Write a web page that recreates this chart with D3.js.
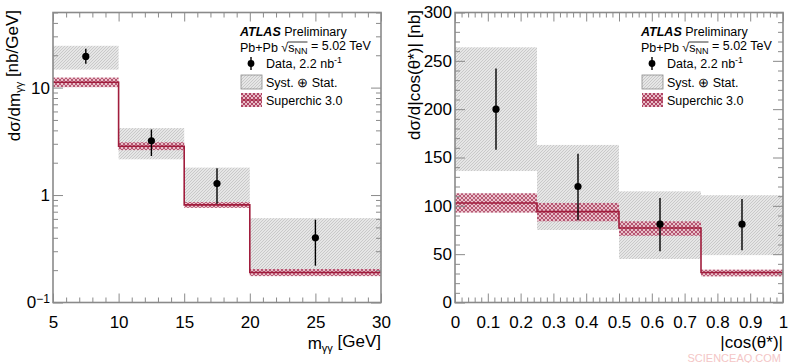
<!DOCTYPE html>
<html><head><meta charset="utf-8">
<script src="https://cdn.jsdelivr.net/npm/d3@7"></script>
<style>
body{margin:0;background:#fff;}
svg{display:block;font-family:"Liberation Sans",Arial,Helvetica,sans-serif;}
</style></head>
<body>
<svg id="c" width="800" height="363"></svg>
<script>
// ---------- data: left panel (m_yy) ----------
const mEdges = [5, 10, 15, 20, 30];
const mCenters = [7.5, 12.5, 17.5, 25];
const mData = [19.5, 3.2, 1.28, 0.40];
const mErrLo = [16.7, 2.31, 0.83, 0.22];
const mErrHi = [23.0, 4.08, 1.78, 0.59];
const mSystLo = [14.7, 2.15, 0.85, 0.19];
const mSystHi = [24.5, 4.2, 1.8, 0.61];
const mSC = [11.2, 2.85, 0.81, 0.19];
const mSCLo = [10.1, 2.62, 0.76, 0.176];
const mSCHi = [12.4, 3.1, 0.86, 0.205];
const mXTicks = [5, 10, 15, 20, 25, 30];
const mYTicks = [0.1, 1, 10];

// ---------- data: right panel (|cos theta*|) ----------
const cEdges = [0, 0.25, 0.5, 0.75, 1];
const cCenters = [0.125, 0.375, 0.625, 0.875];
const cData = [200, 120, 81, 81];
const cErrLo = [158, 85, 53, 54];
const cErrHi = [242, 154, 108, 107];
const cSystLo = [136, 75, 45, 49];
const cSystHi = [264, 163, 115, 111];
const cSC = [103, 94, 77, 31];
const cSCLo = [93, 84, 69, 27];
const cSCHi = [113, 103, 84, 34];
const cXTicks = [0, 0.1, 0.2, 0.3, 0.4, 0.5, 0.6, 0.7, 0.8, 0.9, 1];
const cYTicks = [0, 50, 100, 150, 200, 250, 300];

const svg = d3.select("#c");
const defs = svg.append("defs");
// syst hatch
const p1 = defs.append("pattern").attr("id","syst").attr("patternUnits","userSpaceOnUse")
  .attr("width",3).attr("height",3);
p1.append("rect").attr("width",3).attr("height",3).attr("fill","#e6e6e6");
p1.append("path").attr("d","M0,3 L3,0 M-1,1 L1,-1 M2,4 L4,2").attr("stroke","#c2c2c2").attr("stroke-width",0.8);
// superchic crosshatch
const p2 = defs.append("pattern").attr("id","sc").attr("patternUnits","userSpaceOnUse")
  .attr("width",4).attr("height",4);
p2.append("rect").attr("width",4).attr("height",4).attr("fill","#e9bcc6");
p2.append("path").attr("d","M0,4 L4,0 M-1,1 L1,-1 M3,5 L5,3 M0,0 L4,4 M-1,3 L1,5 M3,-1 L5,1")
  .attr("stroke","#a8385a").attr("stroke-width",0.9);

const yTop = 12.5, yBot = 302.5;
const frameCol = "#8a8a8a";
const lineCol = "#a11d3d";

function drawPanel(o){
  const g = svg.append("g");
  const x = o.x, y = o.y;
  const [x0,x1] = x.range();
  // syst boxes
  g.selectAll(".syst").data(o.centers).join("rect")
    .attr("x",(d,i)=>x(o.edges[i])).attr("width",(d,i)=>x(o.edges[i+1])-x(o.edges[i]))
    .attr("y",(d,i)=>y(o.systHi[i])).attr("height",(d,i)=>y(o.systLo[i])-y(o.systHi[i]))
    .attr("fill","url(#syst)");
  // superchic band
  g.selectAll(".band").data(o.centers).join("rect")
    .attr("x",(d,i)=>x(o.edges[i])).attr("width",(d,i)=>x(o.edges[i+1])-x(o.edges[i]))
    .attr("y",(d,i)=>y(o.scHi[i])).attr("height",(d,i)=>y(o.scLo[i])-y(o.scHi[i]))
    .attr("fill","url(#sc)").attr("opacity",0.9);
  // superchic step line
  const pts = [];
  o.sc.forEach((v,i)=>{pts.push([o.edges[i],v]);pts.push([o.edges[i+1],v]);});
  g.append("path").attr("d",d3.line().x(d=>x(d[0])).y(d=>y(d[1]))(pts))
    .attr("fill","none").attr("stroke",lineCol).attr("stroke-width",1.6);
  // data error bars & points
  g.selectAll(".err").data(o.centers).join("line")
    .attr("x1",d=>x(d)).attr("x2",d=>x(d))
    .attr("y1",(d,i)=>y(o.errHi[i])).attr("y2",(d,i)=>y(o.errLo[i]))
    .attr("stroke","#000").attr("stroke-width",1.4);
  g.selectAll(".pt").data(o.centers).join("circle")
    .attr("cx",d=>x(d)).attr("cy",(d,i)=>y(o.data[i])).attr("r",3.6).attr("fill","#000");
  // frame
  g.append("rect").attr("x",x0).attr("y",yTop).attr("width",x1-x0).attr("height",yBot-yTop)
    .attr("fill","none").attr("stroke",frameCol).attr("stroke-width",1.6);
  function styleAx(sel){sel.select(".domain").remove();sel.selectAll("line").attr("stroke",frameCol).attr("stroke-width",1);
    sel.selectAll("text").attr("fill","#000").style("font-size","17px").style("font-family","'Liberation Sans',Arial,sans-serif");}
  // x axes
  const xb = g.append("g").attr("transform",`translate(0,${yBot})`)
    .call(d3.axisBottom(x).tickValues(o.xTicks).tickSize(-9).tickPadding(13).tickFormat(o.xFmt));
  styleAx(xb);
  xb.selectAll("text").attr("dy","0.71em");
  const xbm = g.append("g").attr("transform",`translate(0,${yBot})`)
    .call(d3.axisBottom(x).tickValues(o.xMinor).tickSize(-5).tickFormat(""));
  styleAx(xbm);
  const xt = g.append("g").attr("transform",`translate(0,${yTop})`)
    .call(d3.axisTop(x).tickValues(o.xTicks).tickSize(-9).tickFormat(""));
  styleAx(xt);
  const xtm = g.append("g").attr("transform",`translate(0,${yTop})`)
    .call(d3.axisTop(x).tickValues(o.xMinor).tickSize(-5).tickFormat(""));
  styleAx(xtm);
  // y axes
  const yl = g.append("g").attr("transform",`translate(${x0},0)`)
    .call(d3.axisLeft(y).tickValues(o.yTicks).tickSize(-10).tickPadding(3).tickFormat(o.yFmt));
  styleAx(yl);
  const ylm = g.append("g").attr("transform",`translate(${x0},0)`)
    .call(d3.axisLeft(y).tickValues(o.yMinor).tickSize(-5).tickFormat(""));
  styleAx(ylm);
  const yr = g.append("g").attr("transform",`translate(${x1},0)`)
    .call(d3.axisRight(y).tickValues(o.yTicks).tickSize(-10).tickFormat(""));
  styleAx(yr);
  const yrm = g.append("g").attr("transform",`translate(${x1},0)`)
    .call(d3.axisRight(y).tickValues(o.yMinor).tickSize(-5).tickFormat(""));
  styleAx(yrm);
  return {g, yl};
}

// left panel
const xM = d3.scaleLinear().domain([5,30]).range([53,381]);
const yM = d3.scaleLog().domain([0.1,50]).range([yBot,yTop]);
const mMinorX = d3.range(5,30.01,1).filter(v=>v%5!==0);
const mMinorY = [];
[0.1,1,10].forEach(b=>{for(let k=2;k<=9;k++){const v=b*k; if(v<=50) mMinorY.push(v);}});
const L = drawPanel({x:xM,y:yM,edges:mEdges,centers:mCenters,data:mData,errLo:mErrLo,errHi:mErrHi,
  systLo:mSystLo,systHi:mSystHi,sc:mSC,scLo:mSCLo,scHi:mSCHi,xTicks:mXTicks,xMinor:mMinorX,
  yTicks:mYTicks,yMinor:mMinorY,xFmt:d3.format("d"),yFmt:d=>d>=1?String(d):""});
// 0^-1 label for the 0.1 tick
L.yl.selectAll(".tick").filter(d=>d===0.1).select("text").each(function(){
  const t=d3.select(this); t.text("");
  t.attr("x",-3);
  t.append("tspan").text("0");
  t.append("tspan").attr("dy","-0.45em").style("font-size","12px").text("−1");
});

// right panel
const xC = d3.scaleLinear().domain([0,1]).range([455,783]);
const yC = d3.scaleLinear().domain([0,300]).range([yBot,yTop]);
const cMinorX = d3.range(0,1.001,0.02).filter(v=>Math.abs(v*10-Math.round(v*10))>1e-6);
const cMinorY = d3.range(0,301,10).filter(v=>v%50!==0);
drawPanel({x:xC,y:yC,edges:cEdges,centers:cCenters,data:cData,errLo:cErrLo,errHi:cErrHi,
  systLo:cSystLo,systHi:cSystHi,sc:cSC,scLo:cSCLo,scHi:cSCHi,xTicks:cXTicks,xMinor:cMinorX,
  yTicks:cYTicks,yMinor:cMinorY,xFmt:d=>String(+d.toFixed(1)),yFmt:d3.format("d")});

// axis titles
const yt1 = svg.append("text").attr("transform","translate(20,10) rotate(-90)").attr("text-anchor","end")
  .style("font-size","17px");
yt1.append("tspan").text("dσ/dm");
yt1.append("tspan").attr("dy","0.3em").style("font-size","11px").text("γγ");
yt1.append("tspan").attr("dy","-0.3em").text(" [nb/GeV]");
svg.append("text").attr("transform","translate(420,10) rotate(-90)").attr("text-anchor","end")
  .style("font-size","17px").text("dσ/d|cos(θ*)| [nb]");
const xt1 = svg.append("text").attr("x",381).attr("y",349).attr("text-anchor","end").style("font-size","17px");
xt1.append("tspan").text("m");
xt1.append("tspan").attr("dy","0.3em").style("font-size","11px").text("γγ");
xt1.append("tspan").attr("dy","-0.3em").text(" [GeV]");
svg.append("text").attr("x",783).attr("y",348).attr("text-anchor","end").style("font-size","17px").text("|cos(θ*)|");

// legends
function legend(x0){
  const g = svg.append("g").style("font-size","12.5px");
  const t1 = g.append("text").attr("x",x0).attr("y",35.5);
  t1.append("tspan").attr("font-weight","bold").attr("font-style","italic").text("ATLAS");
  t1.append("tspan").text(" Preliminary");
  const t2 = g.append("text").attr("x",x0).attr("y",51.5);
  t2.append("tspan").text("Pb+Pb √s");
  t2.append("tspan").attr("dy","0.3em").style("font-size","9px").text("NN");
  t2.append("tspan").attr("dy","-0.3em").text(" = 5.02 TeV");
  const node = t2.node();
  const e6 = node.getExtentOfChar(6), e9 = node.getExtentOfChar(9);
  g.append("line").attr("x1",e6.x+e6.width-0.5).attr("x2",e9.x+e9.width)
    .attr("y1",e6.y+1.5).attr("y2",e6.y+1.5).attr("stroke","#000").attr("stroke-width",0.8);
  // data
  const mx = x0+11;
  g.append("line").attr("x1",mx).attr("x2",mx).attr("y1",57).attr("y2",70).attr("stroke","#000").attr("stroke-width",1.4);
  g.append("circle").attr("cx",mx).attr("cy",63.5).attr("r",3.4).attr("fill","#000");
  const t3 = g.append("text").attr("x",x0+26).attr("y",67.5);
  t3.append("tspan").text("Data, 2.2 nb");
  t3.append("tspan").attr("dy","-0.45em").style("font-size","9px").text("-1");
  // syst
  g.append("rect").attr("x",x0+1).attr("y",75).attr("width",21).attr("height",14)
    .attr("fill","url(#syst)").attr("stroke","#8a8a8a").attr("stroke-width",0.8);
  g.append("text").attr("x",x0+26).attr("y",86.5).text("Syst. ⊕ Stat.");
  // superchic
  g.append("rect").attr("x",x0+1).attr("y",93).attr("width",21).attr("height",14).attr("fill","url(#sc)");
  g.append("line").attr("x1",x0+1).attr("x2",x0+22).attr("y1",100).attr("y2",100).attr("stroke",lineCol).attr("stroke-width",1.2);
  g.append("text").attr("x",x0+26).attr("y",104.5).text("Superchic 3.0");
}
legend(240);
legend(641);

// watermark
svg.append("text").attr("x",781).attr("y",362).attr("text-anchor","end").style("font-size","11px")
  .attr("fill","#f4c6c6").text("SCIENCEAQ.COM");
</script>
</body></html>
